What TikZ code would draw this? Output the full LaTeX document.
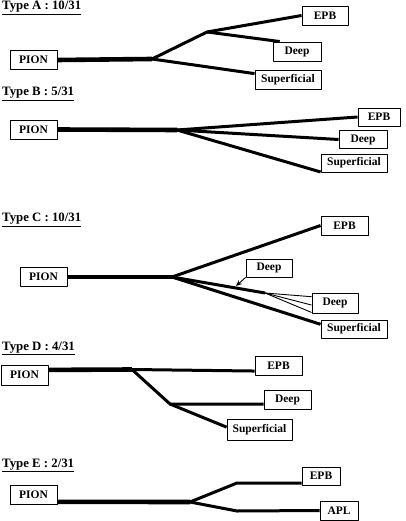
\documentclass[tikz,border=0pt]{standalone}
\usepackage{fontspec}
\setmainfont{Liberation Serif}
\usetikzlibrary{arrows.meta}

\begin{document}
\begin{tikzpicture}[x=1pt, y=-1pt, line join=round,
  lbl/.style={draw=black, line width=0.9pt, fill=white, minimum height=19pt, inner sep=0pt,
    font=\fontsize{11.5}{13}\selectfont\bfseries},
  typehead/.style={anchor=base west, inner sep=0pt, font=\fontsize{12.8}{15}\selectfont\bfseries},
  trunk/.style={line width=4.6pt},
  branch/.style={line width=3pt},
  fine/.style={line width=0.9pt}]
\useasboundingbox (0,0) rectangle (406,521);

% Type A
\node[typehead] (titleA) at (2,10) {\underline{Type A : 10/31}};
\node[lbl, minimum width=47pt] (pionA) at (33.5,60) {PION};
\node[lbl, minimum width=46pt] (epbA) at (325,15.5) {EPB};
\node[lbl, minimum width=48pt] (deepA) at (297,51.5) {Deep};
\node[lbl, minimum width=66pt] (supA) at (288,79.5) {Superficial};
\coordinate (jA1) at (152,59);
\coordinate (jA2) at (207,32);
\draw[trunk] (pionA.east) -- (jA1);
\draw[branch] (jA1) -- (jA2) -- (epbA.west);
\draw[branch] (jA2) -- (deepA.150);
\draw[branch] (jA1) -- (supA.170);

% Type B
\node[typehead] (titleB) at (2,96) {\underline{Type B : 5/31}};
\node[lbl, minimum width=47pt] (pionB) at (33.5,129.5) {PION};
\node[lbl, minimum width=42pt, minimum height=18pt] (epbB) at (379,117) {EPB};
\node[lbl, minimum width=48pt, minimum height=18pt] (deepB) at (363,139.5) {Deep};
\node[lbl, minimum width=66pt, minimum height=18pt] (supB) at (354,163) {Superficial};
\coordinate (jB) at (177,130);
\draw[trunk] (pionB.east) -- (jB);
\draw[branch] (jB) -- (epbB.west);
\draw[branch] (jB) -- (deepB.west);
\draw[branch] (jB) -- (supB.195);

% Type C
\node[typehead] (titleC) at (2,222) {\underline{Type C : 10/31}};
\node[lbl, minimum width=47pt] (pionC) at (43.5,277) {PION};
\node[lbl, minimum width=47pt] (epbC) at (344.5,225.5) {EPB};
\node[lbl, minimum width=46pt, minimum height=18pt] (deepCa) at (269,268) {Deep};
\node[lbl, minimum width=46pt, minimum height=20pt] (deepCb) at (335,303) {Deep};
\node[lbl, minimum width=66pt, minimum height=18pt] (supC) at (354,329) {Superficial};
\coordinate (jC1) at (172,277);
\coordinate (jC2) at (265,293);
\coordinate (aC) at (236,286);
\draw[trunk] (pionC.east) -- (jC1);
\draw[branch] (jC1) -- (epbC.west);
\draw[branch] (jC1) -- (jC2);
\draw[fine] (jC2) -- (deepCb.165);
\draw[fine] (jC2) -- (deepCb.185);
\draw[fine] (jC2) -- (deepCb.202);
\draw[branch] (jC1) -- (supC.172);
\draw[line width=0.9pt, -{Stealth[length=6pt, width=5pt]}] (deepCa.south west) -- (aC);

% Type D
\node[typehead] (titleD) at (2,350) {\underline{Type D : 4/31}};
\node[lbl, minimum width=47pt, minimum height=20pt] (pionD) at (24.5,375) {PION};
\node[lbl, minimum width=47pt] (epbD) at (278.5,365.5) {EPB};
\node[lbl, minimum width=47pt] (deepD) at (287.5,399.5) {Deep};
\node[lbl, minimum width=65pt, minimum height=21pt] (supD) at (259.5,430) {Superficial};
\coordinate (jD1) at (132,369.5);
\coordinate (jD2) at (170,404);
\draw[trunk] (pionD.12) -- (jD1);
\draw[branch] (jD1) -- (epbD.193);
\draw[branch] (jD1) -- (jD2) -- (deepD.191);
\draw[branch] (jD2) -- (supD.175);

% Type E
\node[typehead] (titleE) at (2,467) {\underline{Type E : 2/31}};
\node[lbl, minimum width=47pt] (pionE) at (33.5,494.5) {PION};
\node[lbl, minimum width=38pt, minimum height=18pt] (epbE) at (321,476) {EPB};
\node[lbl, minimum width=38pt] (aplE) at (339,510.5) {APL};
\coordinate (jE1) at (190,502);
\coordinate (jE2) at (237,483);
\coordinate (jE3) at (237,511);
\draw[trunk] (pionE.343) -- (jE1);
\draw[branch] (jE1) -- (jE2) -- (epbE.200);
\draw[branch] (jE1) -- (jE3) -- (aplE.west);
\end{tikzpicture}
\end{document}
